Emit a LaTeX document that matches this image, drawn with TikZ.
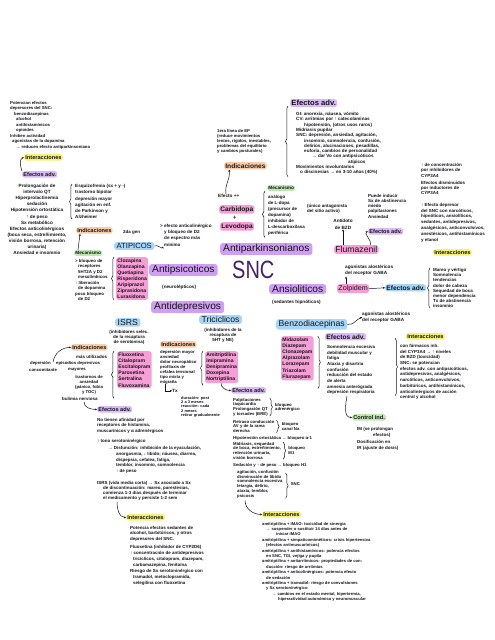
\documentclass[tikz,border=0pt]{standalone}
\usepackage{fontspec}
\setmainfont{Liberation Sans}[FakeStretch=1.02]
\newfontfamily\sncfont{Liberation Sans}[FakeStretch=0.8]
\usetikzlibrary{decorations.pathreplacing,arrows.meta,calc}
\definecolor{ink}{RGB}{20,20,24}
\definecolor{catc}{RGB}{208,158,242}
\definecolor{efxc}{RGB}{218,186,246}
\definecolor{pinkc}{RGB}{246,158,214}
\definecolor{bluec}{RGB}{168,214,248}
\definecolor{orangec}{RGB}{250,204,168}
\definecolor{yellowc}{RGB}{246,241,118}
\definecolor{greenc}{RGB}{190,231,180}
\definecolor{sncc}{RGB}{72,30,104}
\newcommand{\myfs}[2]{\fontsize{#1}{#2}\selectfont\bfseries}
\tikzset{
  tx/.style={anchor=north west, inner sep=0pt, align=left, text=ink, font=\myfs{4.4}{5.3}},
  hl/.style={anchor=north west, inner sep=1.2pt, rounded corners=2.5pt, text=ink, align=left},
  cat/.style={hl, fill=catc, inner xsep=3pt, font=\fontsize{10}{11}\selectfont},
  sub/.style={hl, fill=bluec, inner xsep=2.5pt, font=\fontsize{8.5}{9}\selectfont},
  drug/.style={hl, fill=pinkc, font=\myfs{5}{6.2}},
  indic/.style={hl, fill=orangec, font=\myfs{5.5}{6}},
  inter/.style={hl, fill=yellowc, font=\myfs{5.5}{6}},
  efx/.style={hl, fill=efxc, font=\myfs{5.5}{6}},
  mec/.style={hl, fill=greenc, font=\myfs{4.6}{5.5}},
  arr/.style={-{Stealth[length=2.2pt,width=2pt]}, line width=0.5pt, draw=ink},
  brc/.style={decorate, decoration={brace, amplitude=2.5pt}, line width=0.5pt, draw=ink},
}
\begin{document}
\begin{tikzpicture}[x=1pt,y=-1pt]
\fill[white] (0,0) rectangle (495,640);
\useasboundingbox (0,0) rectangle (495,640);

% ---------- top left (antipsicoticos)
\node[tx, font=\myfs{4.2}{5.5}] (pot) at (10,101) {Potencian efectos\\depresores del SNC:\\\hspace*{4pt}benzodiacepinas\\\hspace*{6pt}alcohol\\\hspace*{6pt}antihistamínicos\\\hspace*{6pt}opioides\\Inhiben actividad\\\hspace*{2pt}agonistas de la dopamina\\\hspace*{6pt}→ reducen efecto antiparkinsoniano};
\node[inter] (i1) at (24,154) {Interacciones};
\node[efx] (e1) at (22,171) {Efectos adv.};
\draw[arr] (e1.north west) to[out=110,in=200] (i1.west);

\node[tx, font=\myfs{4.6}{6.1}, align=center, anchor=north] (l1) at (37,184) {Prolongación de\\intervalo QT\\Hiperprolactinemia\\sedación\\Hipotensión ortostática\\↑ de peso\\Sx metabólico\\Efectos anticolinérgicos\\(boca seca, estreñimiento,\\visión borrosa, retención\\urinaria)\\Ansiedad e insomnio};
\node[tx, font=\myfs{4.5}{6.3}] (r1) at (75,184) {Esquizofrenia (sx + y -)\\trastorno bipolar\\depresión mayor\\agitación en enf.\\de Parkinson y\\Alzheimer};
\draw[brc] ($(r1.south west)+(-3,0)$) -- ($(r1.north west)+(-3,0)$);
\node[indic] (ind1) at (76,227) {Indicaciones};
\node[tx] (gen) at (123,230) {2da gen};
\node[sub, font=\fontsize{7.5}{8}\selectfont] (atip) at (114,242) {ATIPICOS};
\node[mec] (mec1) at (74,250) {Mecanismo};
\draw[arr] ($(mec1.north west)+(4,0)$) -- ($(ind1.south west)+(4,0)$);
\node[tx, font=\myfs{4.3}{5.5}] (m1) at (75,259) {> bloqueo de\\\hspace*{3pt}receptores\\\hspace*{3pt}5HT2A y D2\\\hspace*{3pt}mesolímbicos\\↑ liberación\\\hspace*{3pt}de dopamina\\poco bloqueo\\\hspace*{3pt}de D2};
\node[drug, font=\myfs{5}{6.1}] (ad) at (116,257) {Clozapina\\Olanzapina\\Quetiapina\\Risperidona\\Aripiprazol\\Ziprasidona\\Lurasidona};
\draw[brc] ($(ad.south west)+(-2,0)$) -- ($(ad.north west)+(-2,0)$);
\node[tx, font=\myfs{4.5}{6.2}] (nt) at (160,224) {> efecto anticolinérgico\\\hspace*{4pt}y bloqueo de D2\\\hspace*{4pt}de espectro más\\\hspace*{4pt}mínimo};
\draw[arr] (atip.east) to[out=40,in=-100] ($(nt.south west)+(3,0)$);

% ---------- central categories
\node[cat] (apsi) at (149,264) {Antipsicoticos};
\node[tx, font=\myfs{4.6}{5.5}] (neu) at (162,285) {(neurolépticos)};
\node[cat] (apk) at (220,243) {Antiparkinsonianos};
\node[anchor=north west, inner sep=0pt, font=\sncfont\fontsize{25}{27}\selectfont, text=sncc] (snc) at (232,261) {SNC};
\node[cat] (ansi) at (269,284) {Ansioliticos};
\node[tx, font=\myfs{4.6}{5.5}] (sed) at (272,300) {(sedantes hipnóticos)};
\node[cat] (adep) at (151,301) {Antidepresivos};

% ---------- antiparkinsonianos
\node[tx, font=\myfs{4.2}{5}] (ep) at (217,129) {1era línea de EP\\(reduce movimientos\\lentos, rígidos, inestables,\\problemas del equilibrio\\y cambios posturales)};
\node[indic, font=\myfs{6.5}{7}] (ind2) at (224,162) {Indicaciones};
\node[tx, font=\myfs{4.6}{5.5}] (ef2) at (218,194) {Efecto ++};
\draw[arr] ($(ef2.north west)+(8,0)$) to[out=100,in=-80] ($(ind2.south west)+(5,0)$);
\node[drug, font=\myfs{6.5}{7}] (carb) at (219,205) {Carbidopa};
\node[tx, font=\myfs{5.5}{6}] (plus) at (233,216) {+};
\node[drug, font=\myfs{6.5}{7}] (levo) at (220,222) {Levodopa};
\node[mec] (mec2) at (267,185) {Mecanismo};
\node[tx, font=\myfs{4.4}{6}] (m2) at (268,195) {análogo\\de L-dopa\\(precursor de\\dopamina)\\inhibidor de\\L-descarboxilasa\\periférica};
\draw[brc] ($(m2.south west)+(-3,2)$) -- ($(m2.north west)+(-3,-4)$);

\node[efx, font=\myfs{7.5}{8}] (e3) at (290,99) {Efectos adv.};
\node[tx, font=\myfs{4.5}{5.3}] (l3) at (296,112) {GI: anorexia, náusea, vómito\\CV: arritmias por ↑ catecolaminas\\\hspace*{8pt}hipotensión, (otros usos raros)\\Midriasis pupilar\\SNC: depresión, ansiedad, agitación,\\\hspace*{8pt}insomnio, somnolencia, confusión,\\\hspace*{8pt}delirios, alucinaciones, pesadillas,\\\hspace*{8pt}euforia, cambios de personalidad\\\hspace*{16pt}→ dar Vo con antipsicóticos\\\hspace*{52pt}atípicos\\Movimientos involuntarios\\\hspace*{4pt}o discinesias → en 3-10 años (40\%)};
\draw[brc] ($(l3.south west)+(-8,2)$) -- ($(l3.north west)+(-8,-6)$);

\node[tx] (c1) at (421,163) {↑ de concentración\\por inhibidores de\\CYP3A4};
\node[tx] (c2) at (421,181) {Efectos disminuidos\\por inductores de\\CYP3A4};
\node[tx, font=\myfs{4.4}{5.8}] (c3) at (421,203) {↑ Efecto depresor\\del SNC con narcóticos,\\hipnóticos, ansiolíticos,\\sedantes, antidepresivos,\\analgésicos, anticonvulsivos,\\anestésicos, antihistamínicos\\y etanol};
\node[inter] (i2) at (433,249) {Interacciones};

% ---------- flumazenil / zolpidem
\node[tx, font=\myfs{4.4}{5.2}] (uni) at (307,204) {(único antagonista\\del sitio activo)};
\node[tx, font=\myfs{4.6}{6.5}, align=center, anchor=north] (ant) at (343,219) {Antídoto\\de BZD};
\node[tx, font=\myfs{4.4}{5.2}] (pue) at (368,194) {Puede inducir\\Sx de abstinencia\\miedo\\palpitaciones\\Ansiedad};
\node[efx] (e4) at (368,228) {Efectos adv.};
\node[drug, font=\fontsize{8.5}{9}\selectfont] (flu) at (334,245) {Flumazenil};
\draw[arr] (flu.north -| ant.south) -- (ant.south);
\draw[arr] ($(flu.north east)+(-8,0)$) to[out=80,in=200] (e4.west);

\node[tx, font=\myfs{4.6}{5.8}] (ago1) at (345,265) {agonistas alostéricos\\del receptor GABA};
\node[drug, font=\fontsize{7}{7.5}\selectfont] (zol) at (337,284) {Zolpidem};
\draw[arr] ($(zol.north west)+(9,0)$) -- ($(ago1.south west)+(1,1)$);
\node[hl, fill=bluec, font=\myfs{6.5}{7}] (e5) at (385,284) {Efectos adv.};
\draw[arr] (zol.east) -- (e5.west);
\node[tx, font=\myfs{4.4}{5.2}] (l5) at (433,268) {Mareo y vértigo\\Somnolencia\\tendencias\\dolor de cabeza\\Sequedad de boca\\menor dependencia\\Tx de abstinencia\\insomnio};
\draw[brc] ($(l5.south west)+(-3,0)$) -- ($(l5.north west)+(-3,0)$);

% ---------- subgroups
\node[sub] (tric) at (199,315) {Triciclicos};
\node[tx, align=center, anchor=north] (tricn) at (223,328) {(inhibidores de la\\recaptura de\\5HT y NE)};
\node[sub] (benz) at (276,319) {Benzodiacepinas};
\node[tx, font=\myfs{4.6}{5.8}] (ago2) at (362,312) {agonistas alostéricos\\del receptor GABA};
\draw[arr] (benz.east) to[out=-10,in=200] (ago2.west);
\node[sub] (isrs) at (115,318) {ISRS};
\node[tx, align=center, anchor=north] (isrsn) at (129,330) {(inhibidores selec.\\de la recaptura\\de serotonina)};

% ---------- ISRS
\node[indic] (i3) at (71,344) {Indicaciones};
\coordinate (i3s) at (53,362);
\draw[arr] (i3s) to[out=80,in=180] (i3.west);
\node[tx] (mu) at (76,355) {más utilizados};
\node[tx, font=\myfs{4.2}{5}] (dep) at (30,361) {depresión};
\node[tx, font=\myfs{4.2}{5}] (epi) at (56,361) {episodios depresivos};
\node[tx, font=\myfs{4.2}{5}] (con) at (29,368) {concomitante};
\node[tx, font=\myfs{4.2}{5}] (may) at (68,368) {mayores};
\node[tx, font=\myfs{4.2}{5}, align=center, anchor=north] (tra) at (89,375) {trastornos de\\ansiedad\\(pánico, fobia\\y TOC)};
\node[tx] (bul) at (62,397) {bulimia nerviosa};
\node[drug] (idr) at (117,351) {Fluoxetina\\Citalopram\\Escitalopram\\Paroxetina\\Sertralina\\Fluvoxamina};
\draw[brc] ($(idr.south west)+(-3,10)$) -- ($(idr.north west)+(-3,0)$);
\node[efx] (e6) at (97,406) {Efectos adv.};
\coordinate (e6s) at (84,402);
\draw[arr] (e6s) to[out=-90,in=180] (e6.west);
\node[tx, font=\myfs{4.4}{5.5}] (t1) at (97,418) {No tienen afinidad por\\receptores de histamina,\\muscarínicos y α adrenérgicos};
\node[tx] (t2) at (97,439) {↑ tono serotoninérgico};
\node[tx, font=\myfs{4.4}{5.8}] (t3) at (108,446) {→ Disfunción: inhibición de la eyaculación,\\\hspace*{8pt}anorgasmia, ↓ libido; náusea, diarrea,\\\hspace*{8pt}dispepsia, cefalea, fatiga,\\\hspace*{8pt}temblor, insomnio, somnolencia\\\hspace*{8pt}↑ de peso};
\node[tx, font=\myfs{4.4}{5.2}] (t4) at (97,481) {ISRS (vida media corta) → Sx asociado a Sx\\\hspace*{6pt}de discontinuación: mareo, parestesias,\\\hspace*{6pt}comienza 1-3 días después de terminar\\\hspace*{6pt}el medicamento y persiste 1-2 sem};
\node[inter] (i3b) at (126,514) {Interacciones};
\draw[arr] ($(t4.south west)+(20,1)$) to[out=-90,in=180] (i3b.west);
\node[tx, font=\myfs{4.4}{5.4}] (t5) at (130,526) {Potencia efectos sedantes de\\alcohol, barbitúricos, y otros\\depresores del SNC.};
\node[tx, font=\myfs{4.4}{6}] (t6) at (130,545) {Fluoxetina (inhibidor de CYP2D6)\\↑ concentración de antidepresivos\\\hspace*{3pt}tricíclicos, citalopram, diazepam,\\\hspace*{3pt}carbamazepina, fenitoína\\Riesgo de Sx serotoninérgico con\\\hspace*{3pt}tramadol, metoclopramida,\\\hspace*{3pt}selegilina con fluoxetina};

% ---------- Triciclicos
\node[indic] (i4) at (160,341) {Indicaciones};
\node[tx, font=\myfs{4.2}{5}] (it) at (160,350) {depresión mayor\\ansiedad\\dolor neuropático\\profilaxis de\\cefalea tensional\\tipo mixta y\\migraña};
\node[drug] (tdr) at (205,351) {Amitriptilina\\Imipramina\\Desipramina\\Doxepina\\Nortriptilina};
\draw[brc] ($(tdr.south west)+(-2,2)$) -- ($(tdr.north west)+(-2,0)$);
\node[tx, font=\myfs{4.6}{5}] (tx) at (172,389) {Tx};
\draw[arr] ($(it.south west)+(5,0)$) |- (tx.west);
\node[tx, font=\myfs{3.9}{4.4}] (txt) at (181,396) {duración: post\\2 a 3 meses\\reacción: cada\\2 meses\\retirar gradualmente};
\node[efx] (e7) at (231,387) {Efectos adv.};
\draw[arr] ($(tdr.south west)+(16,0)$) to[out=-90,in=180] (e7.west);

\node[tx, font=\myfs{4.2}{4.6}] (g1) at (233,398) {Palpitaciones\\taquicardia\\Prolongación QT\\y torsades (BRE)};
\draw[brc] ($(g1.north east)+(2,0)$) -- ($(g1.south east)+(2,0)$);
\node[tx, font=\myfs{4.2}{4.6}] (g1l) at ($(g1.east)+(7,-4)$) {bloqueo\\adrenérgico};
\node[tx, font=\myfs{4.2}{4.6}] (g2) at (233,420) {Retraso conducción\\AV y de la rama\\derecha};
\draw[brc] ($(g2.north east)+(2,0)$) -- ($(g2.south east)+(2,0)$);
\node[tx, font=\myfs{4.2}{4.6}] (g2l) at ($(g2.east)+(7,-4)$) {bloqueo\\canal Na};
\node[tx, font=\myfs{4.2}{4.6}] (g3a) at (233,436) {Hipotensión ortostática → bloqueo α-1};
\node[tx, font=\myfs{4.2}{4.6}] (g3) at (233,442) {Midriasis, sequedad\\de boca, estreñimiento,\\retención urinaria,\\visión borrosa};
\draw[brc] ($(g3.north east)+(2,0)$) -- ($(g3.south east)+(2,0)$);
\node[tx, font=\myfs{4.2}{4.6}] (g3l) at ($(g3.east)+(7,-4)$) {bloqueo\\M1};
\node[tx, font=\myfs{4.2}{4.6}] (g4a) at (233,463) {Sedación y ↑ de peso → bloqueo H1};
\node[tx, font=\myfs{4.2}{4.8}] (g4) at (237,470) {agitación, confusión\\disminución de libido\\somnolencia excesiva\\letargia, delirio,\\ataxia, temblor,\\psicosis};
\draw[brc] ($(g4.north east)+(3,3)$) -- ($(g4.south east)+(3,0)$);
\node[tx, font=\myfs{4.2}{4.6}] (g4l) at ($(g4.east)+(8,-2)$) {SNC};
\node[inter] (i4b) at (262,511) {Interacciones};
\draw[arr] ($(g4.south west)+(8,2)$) to[out=-90,in=180] (i4b.west);
\node[tx, font=\myfs{4.1}{5.4}] (ti) at (262,522) {amitriptilina + IMAO: toxicidad de sinergia\\\hspace*{4pt}→ suspender o sustituir 14 días antes de\\\hspace*{14pt}iniciar IMAO\\amitriptilina + simpaticomiméticos: crisis hipertensiva\\\hspace*{4pt}(efectos antimuscarínicos)\\amitriptilina + antihistamínicos: potencia efectos\\\hspace*{4pt}en SNC, TGI, vejiga y pupila\\amitriptilina + antiarrítmicos: propiedades de con-\\\hspace*{4pt}ducción: riesgo de arritmias\\amitriptilina + anticolinérgicos: potencia efecto\\\hspace*{4pt}de sedación\\amitriptilina + tramadol: riesgo de convulsiones\\\hspace*{4pt}y Sx serotoninérgico\\\hspace*{10pt}→ cambios en el estado mental, hipertermia,\\\hspace*{16pt}hiperactividad autonómica y neuromuscular};

% ---------- Benzodiacepinas
\node[drug] (bdr) at (281,336) {Midazolam\\Diazepam\\Clonazepam\\Alprazolam\\Lorazepam\\Triazolam\\Flurazepam};
\draw[brc] ($(bdr.north east)+(4,0)$) -- ($(bdr.south east)+(4,8)$);
\node[efx, font=\myfs{6.5}{7}] (e8) at (325,333) {Efectos adv.};
\node[tx, font=\myfs{4.4}{5.7}] (bl) at (327,345) {Somnolencia excesiva\\debilidad muscular y\\fatiga\\Ataxia y disartria\\confusión\\reducción del estado\\de alerta\\amnesia anterógrada\\depresión respiratoria};
\node[inter] (i5) at (406,333) {Interacciones};
\node[tx, font=\myfs{4.4}{5.7}] (i5t) at (400,344) {con fármacos inh.\\del CYP3A4 → ↑ niveles\\de BZD (toxicidad)\\SNC: se potencian\\efectos adv. con antipsicóticos,\\antidepresivos, analgésicos,\\narcóticos, anticonvulsivos,\\barbitúricos, antihistamínicos,\\anticolinérgicos de acción\\central y alcohol};
\draw[brc] ($(i5t.north west)+(-5,-6)$) -- ($(i5t.south west)+(-5,-4)$);
\node[mec, font=\myfs{5.5}{6}] (ci) at (352,414) {Control ind.};
\draw[arr] ($(bl.south west)+(20,1)$) to[out=-100,in=180] (ci.west);
\node[tx, font=\myfs{4.4}{6.5}] (cit) at (357,427) {IM (se prolongan\\\hspace*{16pt}efectos)\\Dosificación en\\IR (ajuste de dosis)};
\end{tikzpicture}
\end{document}
